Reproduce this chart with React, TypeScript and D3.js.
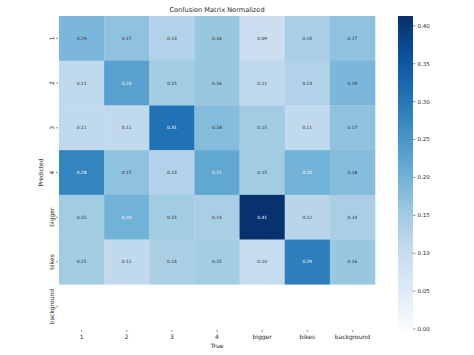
import React from "react";
import * as d3 from "d3";

const trueLabels = ["1", "2", "3", "4", "bigger", "bikes", "background"];
const predLabels = ["1", "2", "3", "4", "bigger", "bikes", "background"];
const row1 = [0.19, 0.17, 0.13, 0.16, 0.09, 0.14, 0.17];
const row2 = [0.11, 0.23, 0.15, 0.16, 0.11, 0.13, 0.19];
const row3 = [0.11, 0.11, 0.31, 0.18, 0.15, 0.11, 0.17];
const row4 = [0.28, 0.17, 0.13, 0.22, 0.15, 0.2, 0.18];
const rowBigger = [0.15, 0.2, 0.15, 0.14, 0.41, 0.12, 0.14];
const rowBikes = [0.15, 0.11, 0.14, 0.15, 0.1, 0.29, 0.16];
const rowBackground: (number | null)[] = [null, null, null, null, null, null, null];
const matrix = [row1, row2, row3, row4, rowBigger, rowBikes, rowBackground];
const colorbarTicks = [0, 0.05, 0.1, 0.15, 0.2, 0.25, 0.3, 0.35, 0.4];
const vmax = 0.413;

const bluesStops = ["#f7fbff", "#deebf7", "#c6dbef", "#9ecae1", "#6baed6", "#4292c6", "#2171b5", "#08519c", "#08306b"];

function luminance(c: string) {
  const rgb = d3.rgb(c);
  const f = (v: number) => {
    const s = v / 255;
    return s <= 0.03928 ? s / 12.92 : Math.pow((s + 0.055) / 1.055, 2.4);
  };
  return 0.2126 * f(rgb.r) + 0.7152 * f(rgb.g) + 0.0722 * f(rgb.b);
}

export default function App() {
  const W = 474, H = 355;
  const x0 = 59, x1 = 375, y0 = 16, y1 = 329;
  const cbX = 398, cbW = 15;
  const font = "DejaVu Sans, sans-serif";
  const textColor = "#262626";

  const x = d3.scaleBand<string>().domain(trueLabels).range([x0, x1]);
  const y = d3.scaleBand<string>().domain(predLabels).range([y0, y1]);
  const t = d3.scaleLinear<number>().domain(bluesStops.map((_, i) => (i / (bluesStops.length - 1)) * vmax)).range(bluesStops.map((_, i) => i) as any);
  const colorScale = d3
    .scaleLinear<string>()
    .domain(bluesStops.map((_, i) => (i / (bluesStops.length - 1)) * vmax))
    .range(bluesStops)
    .interpolate(d3.interpolateRgb)
    .clamp(true);
  const cbY = d3.scaleLinear().domain([0, vmax]).range([y1, y0]);
  void t;

  const gradStops = d3.range(0, 101).map((i) => i / 100);

  return (
    <svg width={W} height={H} style={{ position: "absolute", left: 0, top: 0, background: "#fff" }}>
      <defs>
        <linearGradient id="cb" x1="0" y1="1" x2="0" y2="0">
          {gradStops.map((s) => (
            <stop key={s} offset={s} stopColor={colorScale(s * vmax)} />
          ))}
        </linearGradient>
      </defs>
      <text x={(x0 + x1) / 2} y={12} textAnchor="middle" fontFamily={font} fontSize={6.6} fill={textColor}>
        Confusion Matrix Normalized
      </text>
      {matrix.map((row, ri) =>
        row.map((v, ci) => {
          if (v === null) return null;
          const fill = colorScale(v);
          const lum = luminance(fill);
          const cx = x(trueLabels[ci])! + x.bandwidth() / 2;
          const cy = y(predLabels[ri])! + y.bandwidth() / 2;
          return (
            <g key={`${ri}-${ci}`}>
              <rect x={x(trueLabels[ci])} y={y(predLabels[ri])} width={x.bandwidth() + 0.3} height={y.bandwidth() + 0.3} fill={fill} />
              <text x={cx} y={cy} dy="0.35em" textAnchor="middle" fontFamily={font} fontSize={4.4} fill={lum > 0.408 ? textColor : "#ffffff"}>
                {v.toFixed(2)}
              </text>
            </g>
          );
        })
      )}
      {trueLabels.map((l) => {
        const cx = x(l)! + x.bandwidth() / 2;
        return (
          <g key={"xt" + l}>
            <line x1={cx} x2={cx} y1={y1 + 1} y2={y1 + 3} stroke={textColor} strokeWidth={0.5} />
            <text x={cx} y={339} textAnchor="middle" fontFamily={font} fontSize={6} fill={textColor}>
              {l}
            </text>
          </g>
        );
      })}
      {predLabels.map((l) => {
        const cy = y(l)! + y.bandwidth() / 2;
        return (
          <g key={"yt" + l}>
            <line x1={x0 - 3} x2={x0 - 1} y1={cy} y2={cy} stroke={textColor} strokeWidth={0.5} />
            <text transform={`translate(54,${cy}) rotate(-90)`} textAnchor="middle" fontFamily={font} fontSize={6} fill={textColor}>
              {l}
            </text>
          </g>
        );
      })}
      <text x={(x0 + x1) / 2} y={347.5} textAnchor="middle" fontFamily={font} fontSize={6} fill={textColor}>
        True
      </text>
      <text transform={`translate(43,${(y0 + y1) / 2}) rotate(-90)`} textAnchor="middle" fontFamily={font} fontSize={6} fill={textColor}>
        Predicted
      </text>
      <rect x={cbX} y={y0} width={cbW} height={y1 - y0} fill="url(#cb)" />
      {colorbarTicks.map((v) => (
        <g key={"cb" + v}>
          <line x1={cbX + cbW} x2={cbX + cbW + 2.5} y1={cbY(v)} y2={cbY(v)} stroke={textColor} strokeWidth={0.5} />
          <text x={cbX + cbW + 4.5} y={cbY(v)} dy="0.35em" fontFamily={font} fontSize={5.5} fill={textColor}>
            {v.toFixed(2)}
          </text>
        </g>
      ))}
    </svg>
  );
}
